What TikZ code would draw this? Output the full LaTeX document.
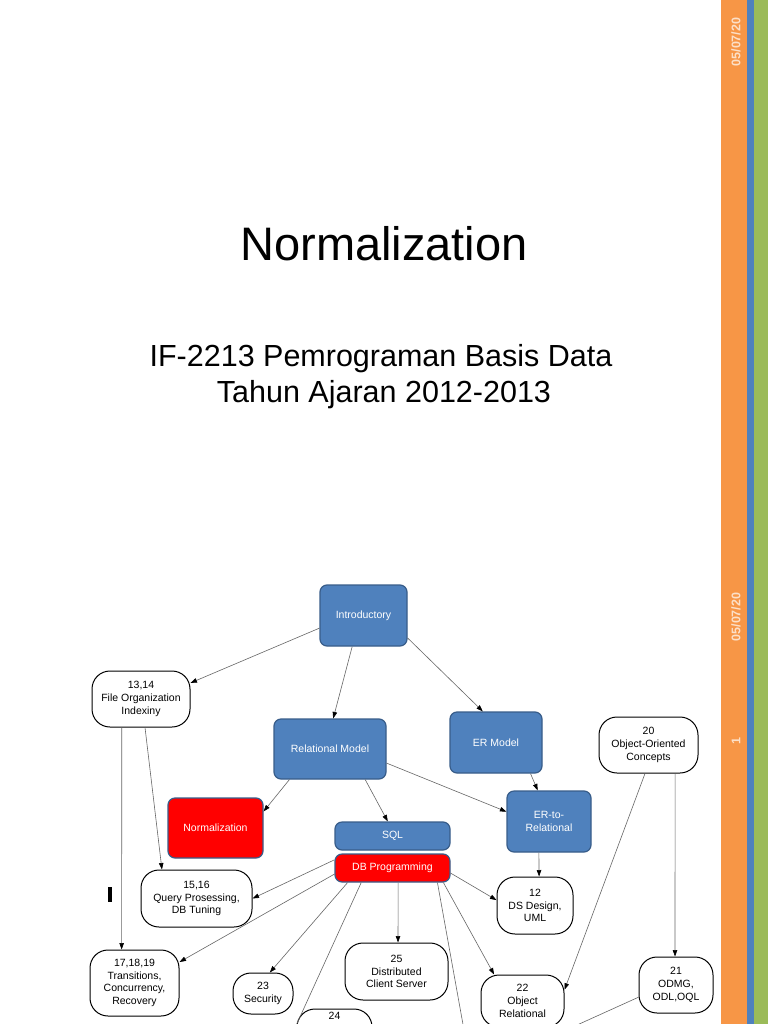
\documentclass[tikz,border=0pt]{standalone}
\usepackage{fontspec}
\setmainfont{Liberation Sans}
\usetikzlibrary{arrows.meta}
\definecolor{boxblue}{HTML}{4F81BD}
\definecolor{boxline}{HTML}{385D8A}
\definecolor{barorange}{HTML}{F79646}
\definecolor{bargreen}{HTML}{9BBB59}
\definecolor{bartext}{HTML}{FCE0C8}
\tikzset{
  topic/.style={draw=black, line width=1pt, fill=white, rounded corners=18pt, align=center, inner sep=0pt, font=\fontsize{10.5}{12.8}\selectfont},
  blubox/.style={draw=boxline, line width=1.2pt, fill=boxblue, rounded corners=7pt, text=white, align=center, inner sep=0pt, font=\fontsize{10.5}{12.6}\selectfont},
  redbox/.style={blubox, fill=red},
  link/.style={draw=black!60, line width=0.6pt, -{Triangle[length=6.5pt,width=4.5pt,color=black]}},
  plainlink/.style={draw=black!60, line width=0.6pt},
  bardate/.style={rotate=90, text=bartext, font=\bfseries\fontsize{12.5}{12.5}\selectfont}
}
\begin{document}
\begin{tikzpicture}[x=1pt,y=-1pt]
			\path[use as bounding box, fill=white] (0,0) rectangle (768,1024);
			\clip (0,0) rectangle (768,1024);
			% side bars
			\fill[barorange] (721,0) rectangle (747,1024);
			\fill[boxblue]   (747,0) rectangle (754,1024);
			\fill[bargreen]  (754,0) rectangle (768,1024);
			\node[bardate] (date1)  at (736,42)  {05/07/20};
			\node[bardate] (date2)  at (736,617) {05/07/20};
			\node[bardate] (pageno) at (736,741) {1};
			% title
			\node[anchor=base, font=\fontsize{47}{47}\selectfont]     (title)  at (384,260) {Normalization};
			\node[anchor=base, font=\fontsize{30.5}{30.5}\selectfont] (course) at (381,366) {IF-2213 Pemrograman Basis Data};
			\node[anchor=base, font=\fontsize{30.5}{30.5}\selectfont] (year)   at (384,402) {Tahun Ajaran 2012-2013};
			% chapters
			\node[blubox, minimum width=87pt,  minimum height=61pt] (intro)   at (363.5,615.5) {Introductory};
			\node[topic,  minimum width=98pt,  minimum height=56pt] (c1314)   at (141,699)     {13,14\\File Organization\\Indexiny};
			\node[blubox, minimum width=112pt, minimum height=60pt] (relm)    at (330,749)     {Relational Model};
			\node[blubox, minimum width=92pt,  minimum height=61pt] (erm)     at (496,742.5)   {ER Model};
			\node[topic,  minimum width=99pt,  minimum height=56pt] (c20)     at (648.5,745)   {20\\Object-Oriented\\Concepts};
			\node[redbox, minimum width=95pt,  minimum height=60pt] (norm)    at (215.5,828)   {Normalization};
			\node[blubox, minimum width=115pt, minimum height=28pt] (sql)     at (392.5,836)   {SQL};
			\node[redbox, minimum width=115pt, minimum height=28pt] (dbp)     at (392.5,868)   {DB Programming};
			\node[blubox, minimum width=84pt,  minimum height=61pt] (ertr)    at (549,821.5)   {ER-to-\\Relational};
			\node[topic,  minimum width=76pt,  minimum height=57pt] (c12)     at (535,905.5)   {12\\DS Design,\\UML};
			\node[topic,  minimum width=111pt, minimum height=57pt] (c1516)   at (196.5,898.5) {15,16\\Query Prosessing,\\DB Tuning};
			\node[topic,  minimum width=89pt,  minimum height=66pt] (c171819) at (134.5,983)   {17,18,19\\Transitions,\\Concurrency,\\Recovery};
			\node[topic,  minimum width=60pt,  minimum height=41pt] (c23)     at (263,993.5)   {23\\Security};
			\node[topic,  minimum width=103pt, minimum height=57pt] (c25)     at (396.5,971.5) {25\\Distributed\\Client Server};
			\node[topic,  minimum width=75pt,  minimum height=56pt, text depth=42pt] (c24) at (334.5,1037) {24};
			\node[topic,  minimum width=83pt,  minimum height=52pt] (c22)     at (522.5,1001)  {22\\Object\\Relational};
			\node[topic,  minimum width=74pt,  minimum height=56pt] (c21)     at (676,985)     {21\\ODMG,\\ODL,OQL};
			% stray mark
			\fill (108,887) rectangle (111.5,902);
			% loose ends below the page
			\coordinate (offa) at (294,1030);
			\coordinate (offb) at (464,1030);
			\coordinate (offc) at (566,1030);
			%
			\def\arrows {intro.196/c1314.18, intro.250/relm.84, intro.333/erm.113,
      c1314.236/c171819.111, c1314.278/c1516.140,
      relm.217/norm.19, relm.319/sql.108, relm.346/ertr.167,
      erm.318/ertr.110, ertr.252/c12.82,
      dbp.172/c1516.0, dbp.186/c171819.25, dbp.198/c23.72, dbp.291/c25.87,
      dbp.344/c22.137, dbp.355/c12.172,
      c20.263/c22.15, c20.313/c21.92}  % edge list
			\foreach \u/\v in \arrows
			{	\draw[link] (\u) -- (\v);
			}
			\foreach \u/\v in {dbp.205/offa, dbp.342/offb, c21.198/offc}
			{	\draw[plainlink] (\u) -- (\v);
			}
\end{tikzpicture}
\end{document}
